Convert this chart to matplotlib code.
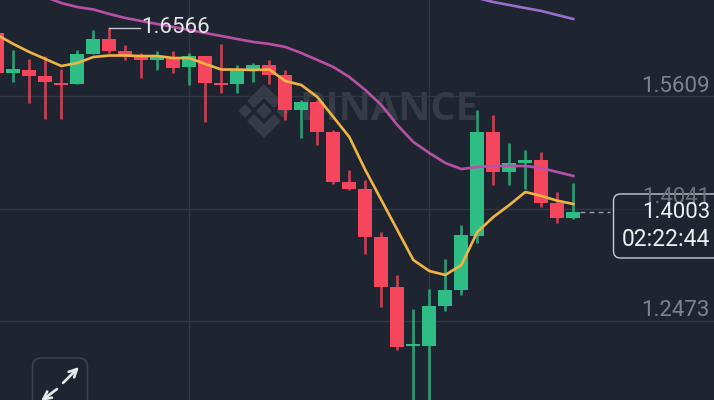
#!/usr/bin/env python3

import numpy as np
import matplotlib
matplotlib.use('Agg')
import matplotlib.pyplot as plt
from matplotlib.patches import FancyBboxPatch, Polygon

plt.rcParams['font.family'] = ['Roboto', 'DejaVu Sans']

# candles
highs = [1.6494, 1.6257, 1.6132, 1.6173, 1.5992, 1.6257, 1.6536, 1.6566, 1.6327, 1.6215,
         1.6243, 1.6243, 1.6215, 1.6173, 1.6341, 1.6048, 1.6076, 1.6118, 1.5978, 1.5560,
         1.5560, 1.5142, 1.4584, 1.4445, 1.3720, 1.3121, 1.2646, 1.2925, 1.3343, 1.3817,
         1.5421, 1.5351, 1.4961, 1.4863, 1.4835, 1.4278, 1.4403]
lows = [1.5936, 1.5811, 1.5518, 1.5295, 1.5295, 1.5783, 1.6201, 1.6215, 1.6118, 1.5867,
        1.5978, 1.5936, 1.5769, 1.5253, 1.5658, 1.5658, 1.5811, 1.5783, 1.5281, 1.5030,
        1.4933, 1.4389, 1.4305, 1.3413, 1.2675, 1.2075, 1.1239, 1.1239, 1.2619, 1.2842,
        1.3567, 1.4375, 1.4375, 1.4319, 1.4068, 1.3845, 1.3901]
opens = [1.6494, 1.5943, 1.5985, 1.5895, 1.5797, 1.5783, 1.6201, 1.6410, 1.6243, 1.6173,
         1.6118, 1.6145, 1.6020, 1.6173, 1.5797, 1.5783, 1.5978, 1.6048, 1.5908, 1.5421,
         1.5532, 1.5114, 1.4417, 1.4319, 1.3650, 1.2953, 1.2131, 1.2131, 1.2688, 1.2911,
         1.3664, 1.5114, 1.4556, 1.4682, 1.4724, 1.4124, 1.3915]
closes = [1.5936, 1.5992, 1.5895, 1.5804, 1.5769, 1.6201, 1.6410, 1.6243, 1.6173, 1.6118,
          1.6173, 1.6013, 1.6173, 1.5797, 1.5769, 1.5978, 1.6048, 1.5908, 1.5421, 1.5532,
          1.5114, 1.4417, 1.4319, 1.3650, 1.2953, 1.2117, 1.2159, 1.2688, 1.2911, 1.3678,
          1.5114, 1.4556, 1.4682, 1.4724, 1.4124, 1.3915, 1.4003]

# moving averages
ma_fast = [1.6466, 1.6341, 1.6229, 1.6132, 1.6034, 1.6076, 1.6159, 1.6180, 1.6180, 1.6173,
           1.6173, 1.6145, 1.6145, 1.6062, 1.5985, 1.5985, 1.5978, 1.5985, 1.5825, 1.5769,
           1.5602, 1.5323, 1.5044, 1.4584, 1.4166, 1.3748, 1.3330, 1.3176, 1.3121, 1.3260,
           1.3720, 1.3929, 1.4096, 1.4278, 1.4222, 1.4156, 1.4110]
ma_mid_start = 3
ma_mid = [1.6996, 1.6912, 1.6856, 1.6822, 1.6759, 1.6703, 1.6661, 1.6619, 1.6578, 1.6536,
          1.6494, 1.6452, 1.6410, 1.6369, 1.6341, 1.6299, 1.6215, 1.6118, 1.6020, 1.5881,
          1.5699, 1.5490, 1.5212, 1.4975, 1.4821, 1.4682, 1.4598, 1.4626, 1.4640, 1.4640,
          1.4640, 1.4612, 1.4556, 1.4501]
ma_slow_start = 30
ma_slow = [1.6982, 1.6926, 1.6884, 1.6842, 1.6801, 1.6745, 1.6689]

grid_prices = [1.5609, 1.4041, 1.2473]
grid_candles = [12, 27]
high_label = '1.6566'
last_price = '1.4003'
countdown = '02:22:44'

bg = '#1f2530'
red = '#f6465d'
green = '#2ebd85'
gray = '#7d8490'

fig = plt.figure(figsize=(7.14, 4), dpi=100, facecolor=bg)

# pixel axes under the chart for the watermark
under = fig.add_axes([0, 0, 1, 1], zorder=0)
under.set_xlim(0, 714)
under.set_ylim(400, 0)
under.axis('off')
mark = '#363c47'
cx, cy = 264, 111
under.add_patch(Polygon([(cx, cy - 7), (cx + 7, cy), (cx, cy + 7), (cx - 7, cy)], color=mark))
under.add_patch(Polygon([(cx - 19, cy - 6), (cx - 13, cy), (cx - 19, cy + 6), (cx - 25, cy)], color=mark))
under.add_patch(Polygon([(cx + 19, cy - 6), (cx + 25, cy), (cx + 19, cy + 6), (cx + 13, cy)], color=mark))
under.add_patch(Polygon([(cx, cy - 26), (cx + 16, cy - 10), (cx + 10, cy - 4), (cx, cy - 14),
                         (cx - 10, cy - 4), (cx - 16, cy - 10)], color=mark))
under.add_patch(Polygon([(cx, cy + 26), (cx + 16, cy + 10), (cx + 10, cy + 4), (cx, cy + 14),
                         (cx - 10, cy + 4), (cx - 16, cy + 10)], color=mark))
under.text(478, 110, 'BINANCE', color=mark, fontsize=28.5, fontweight='bold',
           ha='right', va='center', family=['Open Sans', 'DejaVu Sans'])

# price chart
ax = fig.add_axes([0, 0, 1, 1], zorder=1)
ax.patch.set_alpha(0)
ax.set_xlim(0.169, 44.79)
ax.set_ylim(1.1378, 1.6954)
ax.axis('off')

for p in grid_prices:
    ax.axhline(p, color='#323843', lw=1, zorder=1)
for c in grid_candles:
    ax.axvline(c, color='#323843', lw=1, zorder=1)

x = np.arange(len(opens))
o = np.array(opens)
h = np.array(highs)
l = np.array(lows)
cl = np.array(closes)
colors = [green if b >= a else red for a, b in zip(o, cl)]

ax.vlines(x, l, h, colors=colors, lw=1.9, alpha=0.8, zorder=2)
ax.bar(x, np.abs(cl - o), bottom=np.minimum(o, cl), width=0.88, color=colors, zorder=3)

ax.plot(x, ma_fast, color='#f0b445', lw=1.9, zorder=4)
ax.plot(x[ma_mid_start:], ma_mid, color='#b950a8', lw=1.9, zorder=5)
ax.plot(x[ma_slow_start:], ma_slow, color='#9a6fc8', lw=1.9, zorder=5)

# highest price marker
top = int(np.argmax(h))
ax.plot([top, top + 1.9], [h[top], h[top]], color='#c4c7cc', lw=1, zorder=6)
ax.text(top + 2.0, h[top], high_label, color='#e2e4e8', fontsize=16, va='center', ha='left', zorder=6)

# last price dashes
ax.plot([x[-1] + 0.4, 38.3], [cl[-1], cl[-1]], color='#9a9fa8', lw=1, dashes=(3.5, 3), zorder=2)

# right axis labels and other furniture, in pixels
over = fig.add_axes([0, 0, 1, 1], zorder=2)
over.patch.set_alpha(0)
over.set_xlim(0, 714)
over.set_ylim(400, 0)
over.axis('off')

over.text(710, 86, f'{grid_prices[0]:.4f}', color=gray, fontsize=16, ha='right', va='center')
over.text(710, 311, f'{grid_prices[2]:.4f}', color=gray, fontsize=16, ha='right', va='center')
over.text(710, 197.5, f'{grid_prices[1]:.4f}', color='#6d737e', fontsize=16, ha='right', va='center')

over.add_patch(FancyBboxPatch((613.5, 194), 120, 64, boxstyle='round,pad=0,rounding_size=7',
                              linewidth=1, edgecolor='#c6cacf', facecolor=(0.122, 0.145, 0.188, 0.72)))
over.text(710, 212, last_price, color='#eceef0', fontsize=16, ha='right', va='center')
over.text(710, 240, countdown, color='#eceef0', fontsize=16.5, ha='right', va='center')

# expand button
over.add_patch(FancyBboxPatch((32.5, 358), 55, 60, boxstyle='round,pad=0,rounding_size=9',
                              linewidth=1.2, edgecolor='#3a404b', facecolor='none'))
over.annotate('', xy=(79, 367), xytext=(63, 383), annotation_clip=False,
              arrowprops=dict(arrowstyle='->', color='#e6e8ea', lw=1.9, mutation_scale=14, shrinkA=0, shrinkB=0))
over.annotate('', xy=(41, 401), xytext=(57, 389), annotation_clip=False,
              arrowprops=dict(arrowstyle='->', color='#e6e8ea', lw=1.9, mutation_scale=14, shrinkA=0, shrinkB=0))

fig.savefig('out.png', dpi=100, facecolor=bg)
